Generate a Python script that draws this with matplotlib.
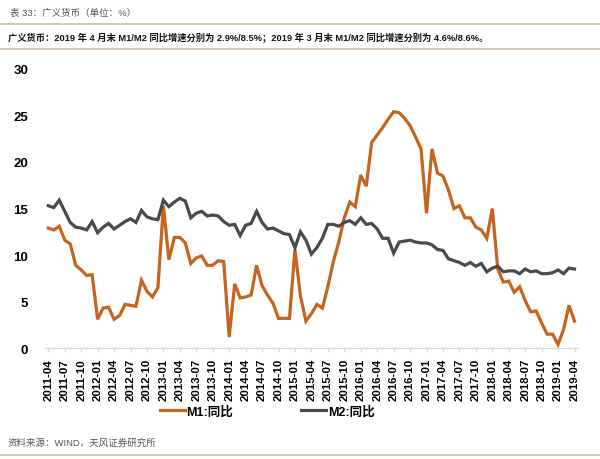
import pandas as pd
import matplotlib.pyplot as plt
import numpy as np
from matplotlib.lines import Line2D

# monthly data, 2011-04 .. 2019-04
months = pd.date_range('2011-04-01', '2019-04-01', freq='MS')

m1_yoy = [
    12.9, 12.7, 13.1, 11.6, 11.2, 8.9, 8.4, 7.8, 7.9,                  # 2011
    3.1, 4.3, 4.4, 3.1, 3.5, 4.7, 4.6, 4.5, 7.3, 6.1, 5.5, 6.5,        # 2012
    15.3, 9.5, 11.9, 11.9, 11.3, 9.1, 9.7, 9.9, 8.9, 8.9, 9.4, 9.3,    # 2013
    1.2, 6.9, 5.4, 5.5, 5.7, 8.9, 6.7, 5.7, 4.8, 3.2, 3.2, 3.2,        # 2014
    10.6, 5.6, 2.9, 3.7, 4.7, 4.3, 6.6, 9.3, 11.4, 14.0, 15.7, 15.2,   # 2015
    18.6, 17.4, 22.1, 22.9, 23.7, 24.6, 25.4, 25.3, 24.7, 23.9, 22.7, 21.4,  # 2016
    14.5, 21.4, 18.8, 18.5, 17.0, 15.0, 15.3, 14.0, 14.0, 13.0, 12.7, 11.8,  # 2017
    15.0, 8.5, 7.1, 7.2, 6.0, 6.6, 5.1, 3.9, 4.0, 2.7, 1.5, 1.5,       # 2018
    0.4, 2.0, 4.6, 2.9,                                                # 2019
]

m2_yoy = [
    15.3, 15.1, 15.9, 14.7, 13.5, 13.0, 12.9, 12.7, 13.6,
    12.4, 13.0, 13.4, 12.8, 13.2, 13.6, 13.9, 13.5, 14.8, 14.1, 13.9, 13.8,
    15.9, 15.2, 15.7, 16.1, 15.8, 14.0, 14.5, 14.7, 14.2, 14.3, 14.2, 13.6,
    13.2, 13.3, 12.1, 13.2, 13.4, 14.7, 13.5, 12.8, 12.9, 12.6, 12.3, 12.2,
    10.8, 12.5, 11.6, 10.1, 10.8, 11.8, 13.3, 13.3, 13.1, 13.5, 13.7, 13.3,
    14.0, 13.3, 13.4, 12.8, 11.8, 11.8, 10.2, 11.4, 11.5, 11.6, 11.4, 11.3,
    11.3, 11.1, 10.6, 10.5, 9.6, 9.4, 9.2, 8.9, 9.2, 8.8, 9.1, 8.2,
    8.6, 8.8, 8.2, 8.3, 8.3, 8.0, 8.5, 8.2, 8.3, 8.0, 8.0, 8.1,
    8.4, 8.0, 8.6, 8.5,
]

labels = [d.strftime('%Y-%m') for d in months]

c_m1 = '#C5631F'
c_m2 = '#4A4A4A'
c_rule = '#CDBB9E'
fam = ['Liberation Sans', 'Noto Sans CJK SC', 'DejaVu Sans']
plt.rcParams['font.family'] = fam

fig = plt.figure(figsize=(6, 4.6), dpi=100)
ax = fig.add_axes([0.075, 0.241, 0.888, 0.607])

x = np.arange(len(months))
ax.plot(x, m1_yoy, color=c_m1, linewidth=2.3, solid_joinstyle='miter')
ax.plot(x, m2_yoy, color=c_m2, linewidth=2.3, solid_joinstyle='miter')

ax.set_xlim(-0.6, len(months) - 0.4)
ax.set_ylim(0, 30)
ax.set_yticks(range(0, 31, 5))
ax.set_xticks(x[::3])
ax.set_xticklabels(labels[::3], rotation=90, fontsize=8.2, fontweight='bold')
for t in ax.get_yticklabels():
    t.set_fontsize(9.5)
    t.set_fontweight('bold')

for s in ['top', 'right', 'left']:
    ax.spines[s].set_visible(False)
ax.spines['bottom'].set_color('#D9D9D9')
ax.tick_params(axis='y', length=0, pad=12)
ax.tick_params(axis='x', length=3, color='#D9D9D9', pad=4)

handles = [Line2D([], [], color=c_m1, lw=2.3), Line2D([], [], color=c_m2, lw=2.3)]
fig.legend(handles, ['M1:同比', 'M2:同比'], loc='center', bbox_to_anchor=(0.445, 0.104),
           ncol=2, frameon=False, columnspacing=5.5, handlelength=2.0, handletextpad=0.1,
           prop={'family': fam, 'weight': 'bold', 'size': 9})

# header / footer
fig.text(0.017, 0.972, '表 33：广义货币（单位：%）', fontsize=6.8, color='#555555', va='center')
fig.text(0.013, 0.917, '广义货币：2019 年 4 月末 M1/M2 同比增速分别为 2.9%/8.5%；2019 年 3 月末 M1/M2 同比增速分别为 4.6%/8.6%。',
         fontsize=6.7, fontweight='bold', color='#111111', va='center')
fig.text(0.013, 0.037, '资料来源：WIND，天风证券研究所', fontsize=6.8, color='#555555', va='center')
for yy in [1 - 25 / 460, 1 - 50 / 460, 1 - 456 / 460]:
    fig.add_artist(Line2D([0.0, 1.0], [yy, yy], color=c_rule, lw=1.2))

fig.savefig('out.png', dpi=100)
